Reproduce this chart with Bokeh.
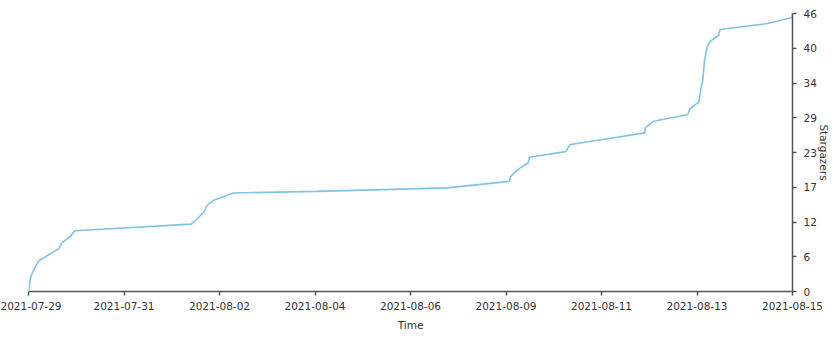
import pandas as pd
from bokeh.plotting import figure
from bokeh.models import (LinearAxis, DatetimeAxis, FixedTicker, CustomJSTickFormatter,
                          Range1d, ColumnDataSource)
from bokeh.embed import file_html
from bokeh.resources import INLINE

# ---- data ----
start_time = "2021-07-29 09:36"
span_days = 17.0
day_offsets = [0.0, 0.045, 0.105, 0.229, 0.674, 0.750, 0.919, 1.030, 3.627, 3.901,
               3.968, 4.124, 4.555, 6.424, 9.317, 10.703, 10.725, 10.888, 11.119, 11.148,
               11.949, 12.060, 13.099, 13.713, 13.729, 13.913, 14.670, 14.715, 14.915, 14.969,
               15.004, 15.042, 15.102, 15.175, 15.360, 15.383, 16.437, 16.995, 17.0]
stargazers = [0.0, 2.29, 3.40, 5.06, 7.10, 8.10, 9.04, 10.04, 11.15, 13.11,
              14.19, 15.10, 16.30, 16.56, 17.14, 18.22, 19.0, 20.16, 21.27, 22.20,
              23.15, 24.31, 25.52, 26.25, 27.13, 28.18, 29.29, 30.24, 31.33, 33.82,
              34.93, 38.25, 40.46, 41.45, 42.40, 43.35, 44.34, 45.34, 46.0]
x_tick_labels = ["2021-07-29", "2021-07-31", "2021-08-02", "2021-08-04", "2021-08-06",
                 "2021-08-09", "2021-08-11", "2021-08-13", "2021-08-15"]
y_max = 46
y_tick_labels = ["0", "6", "12", "17", "23", "29", "34", "40", "46"]

t0 = pd.Timestamp(start_time)
times = [t0 + pd.Timedelta(days=d) for d in day_offsets]
src = ColumnDataSource(dict(t=times, v=stargazers))

t0_ms = t0.value // 10**6
t1_ms = (t0 + pd.Timedelta(days=span_days)).value // 10**6
n = len(x_tick_labels) - 1
x_ticks = [t0_ms + (t1_ms - t0_ms) * i / n for i in range(n + 1)]
y_ticks = [y_max * i / n for i in range(n + 1)]

FONT = "DejaVu Sans"
TXT = "#333333"
AX = "#555555"

p = figure(width=833, height=338, output_backend="svg", toolbar_location=None,
           x_axis_type=None, y_axis_location=None,
           x_range=Range1d(t0_ms, t1_ms), y_range=Range1d(0, y_max),
           min_border_left=28, min_border_right=41, min_border_top=13, min_border_bottom=47)
p.outline_line_color = None
p.xgrid.visible = False
p.ygrid.visible = False
p.background_fill_color = "white"
p.border_fill_color = "white"

p.line("t", "v", source=src, line_color="#7fc3e6", line_width=1.6)

xfmt = CustomJSTickFormatter(args=dict(labels=x_tick_labels, s=t0_ms, e=t1_ms, n=n), code="""
    const i = Math.round((tick - s) / ((e - s) / n));
    return labels[i];
""")
xaxis = DatetimeAxis(ticker=FixedTicker(ticks=x_ticks, minor_ticks=[]), formatter=xfmt,
                     axis_label="Time")
yfmt = CustomJSTickFormatter(args=dict(labels=y_tick_labels, m=y_max, n=n), code="""
    const i = Math.round(tick / (m / n));
    return labels[i];
""")
yaxis = LinearAxis(ticker=FixedTicker(ticks=y_ticks, minor_ticks=[]), formatter=yfmt,
                   axis_label="Stargazers")

for ax in (xaxis, yaxis):
    ax.axis_line_color = AX
    ax.axis_line_width = 1.5
    ax.major_tick_line_color = AX
    ax.major_tick_line_width = 1.5
    ax.major_tick_in = 0
    ax.major_tick_out = 4
    ax.minor_tick_line_color = None
    ax.major_label_text_font = FONT
    ax.major_label_text_font_size = "10.5px"
    ax.major_label_text_color = TXT
    ax.axis_label_text_font = FONT
    ax.axis_label_text_font_size = "10.5px"
    ax.axis_label_text_font_style = "normal"
    ax.axis_label_text_color = TXT

xaxis.major_label_standoff = 6
xaxis.axis_label_standoff = 6
yaxis.major_label_standoff = 7
yaxis.axis_label_standoff = -2

p.add_layout(xaxis, "below")
p.add_layout(yaxis, "right")

open("out.html", "w").write(file_html(p, INLINE))
